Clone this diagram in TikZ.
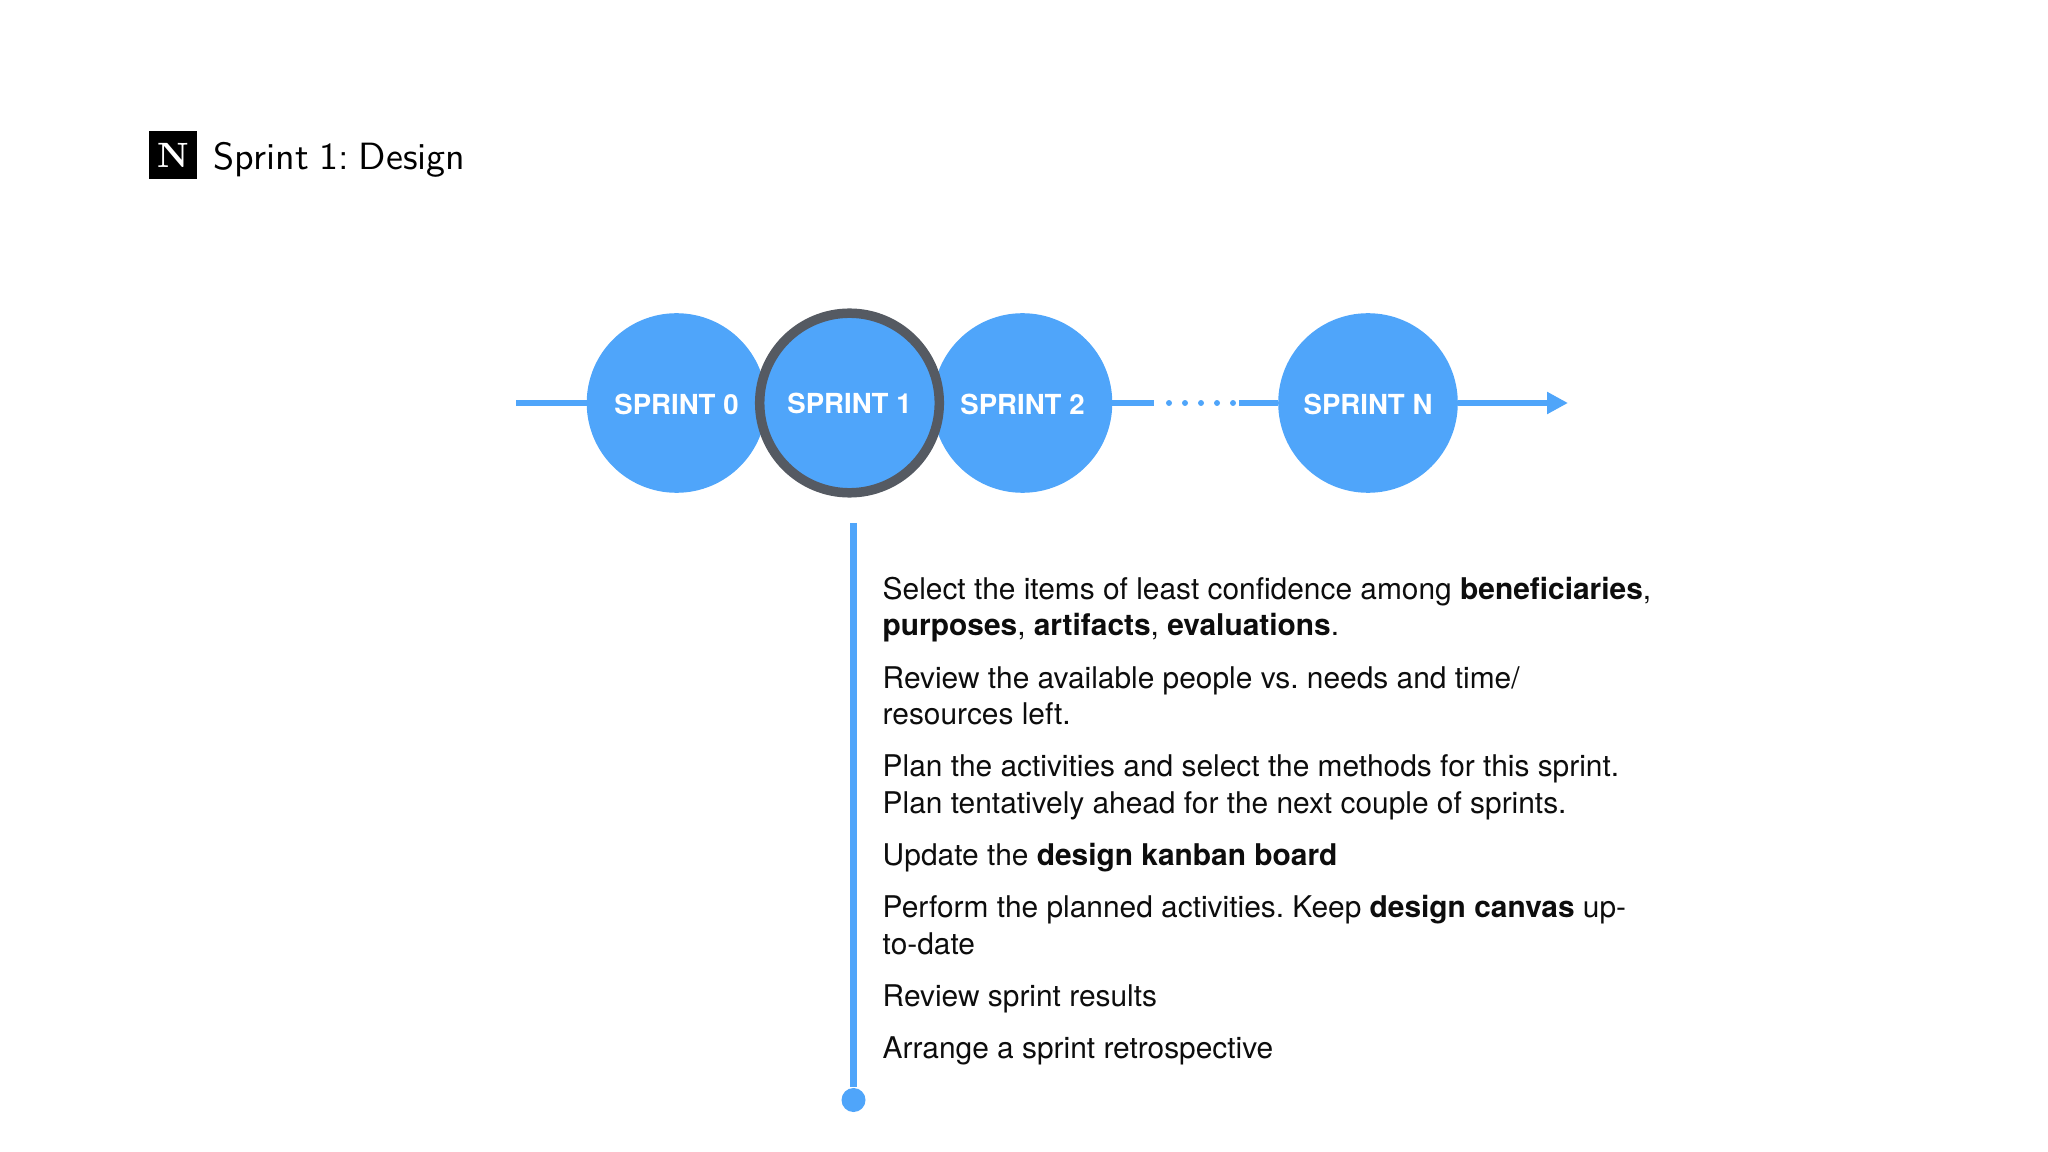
\documentclass[tikz,border=0pt]{standalone}
\usepackage{fontspec}
\usetikzlibrary{arrows.meta}
\newfontfamily\bodyfont{TeX Gyre Heros}
\newcommand{\titlespacing}{\frenchspacing\spaceskip 0.27em\relax}
\definecolor{sprintblue}{HTML}{4FA5FA}
\definecolor{ringgrey}{HTML}{555A62}
\tikzset{
  sprintnode/.style={circle,fill=sprintblue,minimum size=1.795cm,inner sep=0pt,outer sep=0pt,text=white,text height=2.3mm,text depth=0pt,font=\bodyfont\fontsize{7.85}{9}\selectfont\bfseries},
  sprintline/.style={draw=sprintblue,line width=1.7pt},
  stepnote/.style={anchor=base west,align=left,inner sep=0pt,text=black!95,font=\bodyfont\fontsize{8.5}{10.36}\selectfont\frenchspacing}
}
\begin{document}
\begin{tikzpicture}[x=0.01cm,y=-0.01cm]
      \useasboundingbox (0,0) rectangle (2048,1152);
      \node [fill=black,text=white,minimum size=0.48cm,inner sep=0pt,font=\fontsize{10}{12}\selectfont\bfseries] (logo) at (173,155) {N};
      \node [anchor=west,inner sep=0pt,font=\sffamily\fontsize{10.8}{12}\selectfont\titlespacing] (title) at (213,160) {Sprint 1: Design};
      \coordinate (linestart) at (516,403);
      \coordinate (gapleft) at (1154,403);
      \coordinate (dotleft) at (1169,403);
      \coordinate (dotright) at (1234,403);
      \coordinate (gapright) at (1239,403);
      \coordinate (arrowend) at (1568,403);
      \coordinate (bartop) at (853.5,523);
      \node [sprintnode] (sprint0) at (676.5,403) {SPRINT 0};
      \node [sprintnode] (sprint2) at (1022.5,403) {SPRINT 2};
      \node [sprintnode] (sprintn) at (1368,403) {SPRINT N};
      \node [sprintnode,text height=2.1mm,draw=ringgrey,line width=2.7pt] (sprint1) at (849.5,403) {SPRINT 1};
      \draw [sprintline] (linestart) -- (sprint0);
      \draw [sprintline] (sprint2) -- (gapleft);
      \draw [sprintline,line cap=round,dash pattern=on 0pt off 0.455pt*10] (dotleft) -- (dotright);
      \draw [sprintline] (gapright) -- (sprintn);
      \draw [sprintline,-{Triangle[length=0.21cm,width=0.21cm]}] (sprintn) -- (arrowend);
      \node [circle,fill=sprintblue,minimum size=0.24cm,inner sep=0pt] (barend) at (853.5,1100) {};
      \draw [draw=sprintblue,line width=2pt] (bartop) -- (barend);
      \node [stepnote] (note1) at (882,636) {Select the items of least confidence among \textbf{beneficiaries},\\\textbf{purposes}, \textbf{artifacts}, \textbf{evaluations}.};
      \node [stepnote] (note2) at (882,725) {Review the available people vs. needs and time/\\resources left.};
      \node [stepnote] (note3) at (882,813) {Plan the activities and select the methods for this sprint.\\Plan tentatively ahead for the next couple of sprints.};
      \node [stepnote] (note4) at (882,865) {Update the \textbf{design kanban board}};
      \node [stepnote] (note5) at (882,954) {Perform the planned activities. Keep \textbf{design canvas} up-\\to-date};
      \node [stepnote] (note6) at (882,1006) {Review sprint results};
      \node [stepnote] (note7) at (882,1058) {Arrange a sprint retrospective};
      \end{tikzpicture}
\end{document}
